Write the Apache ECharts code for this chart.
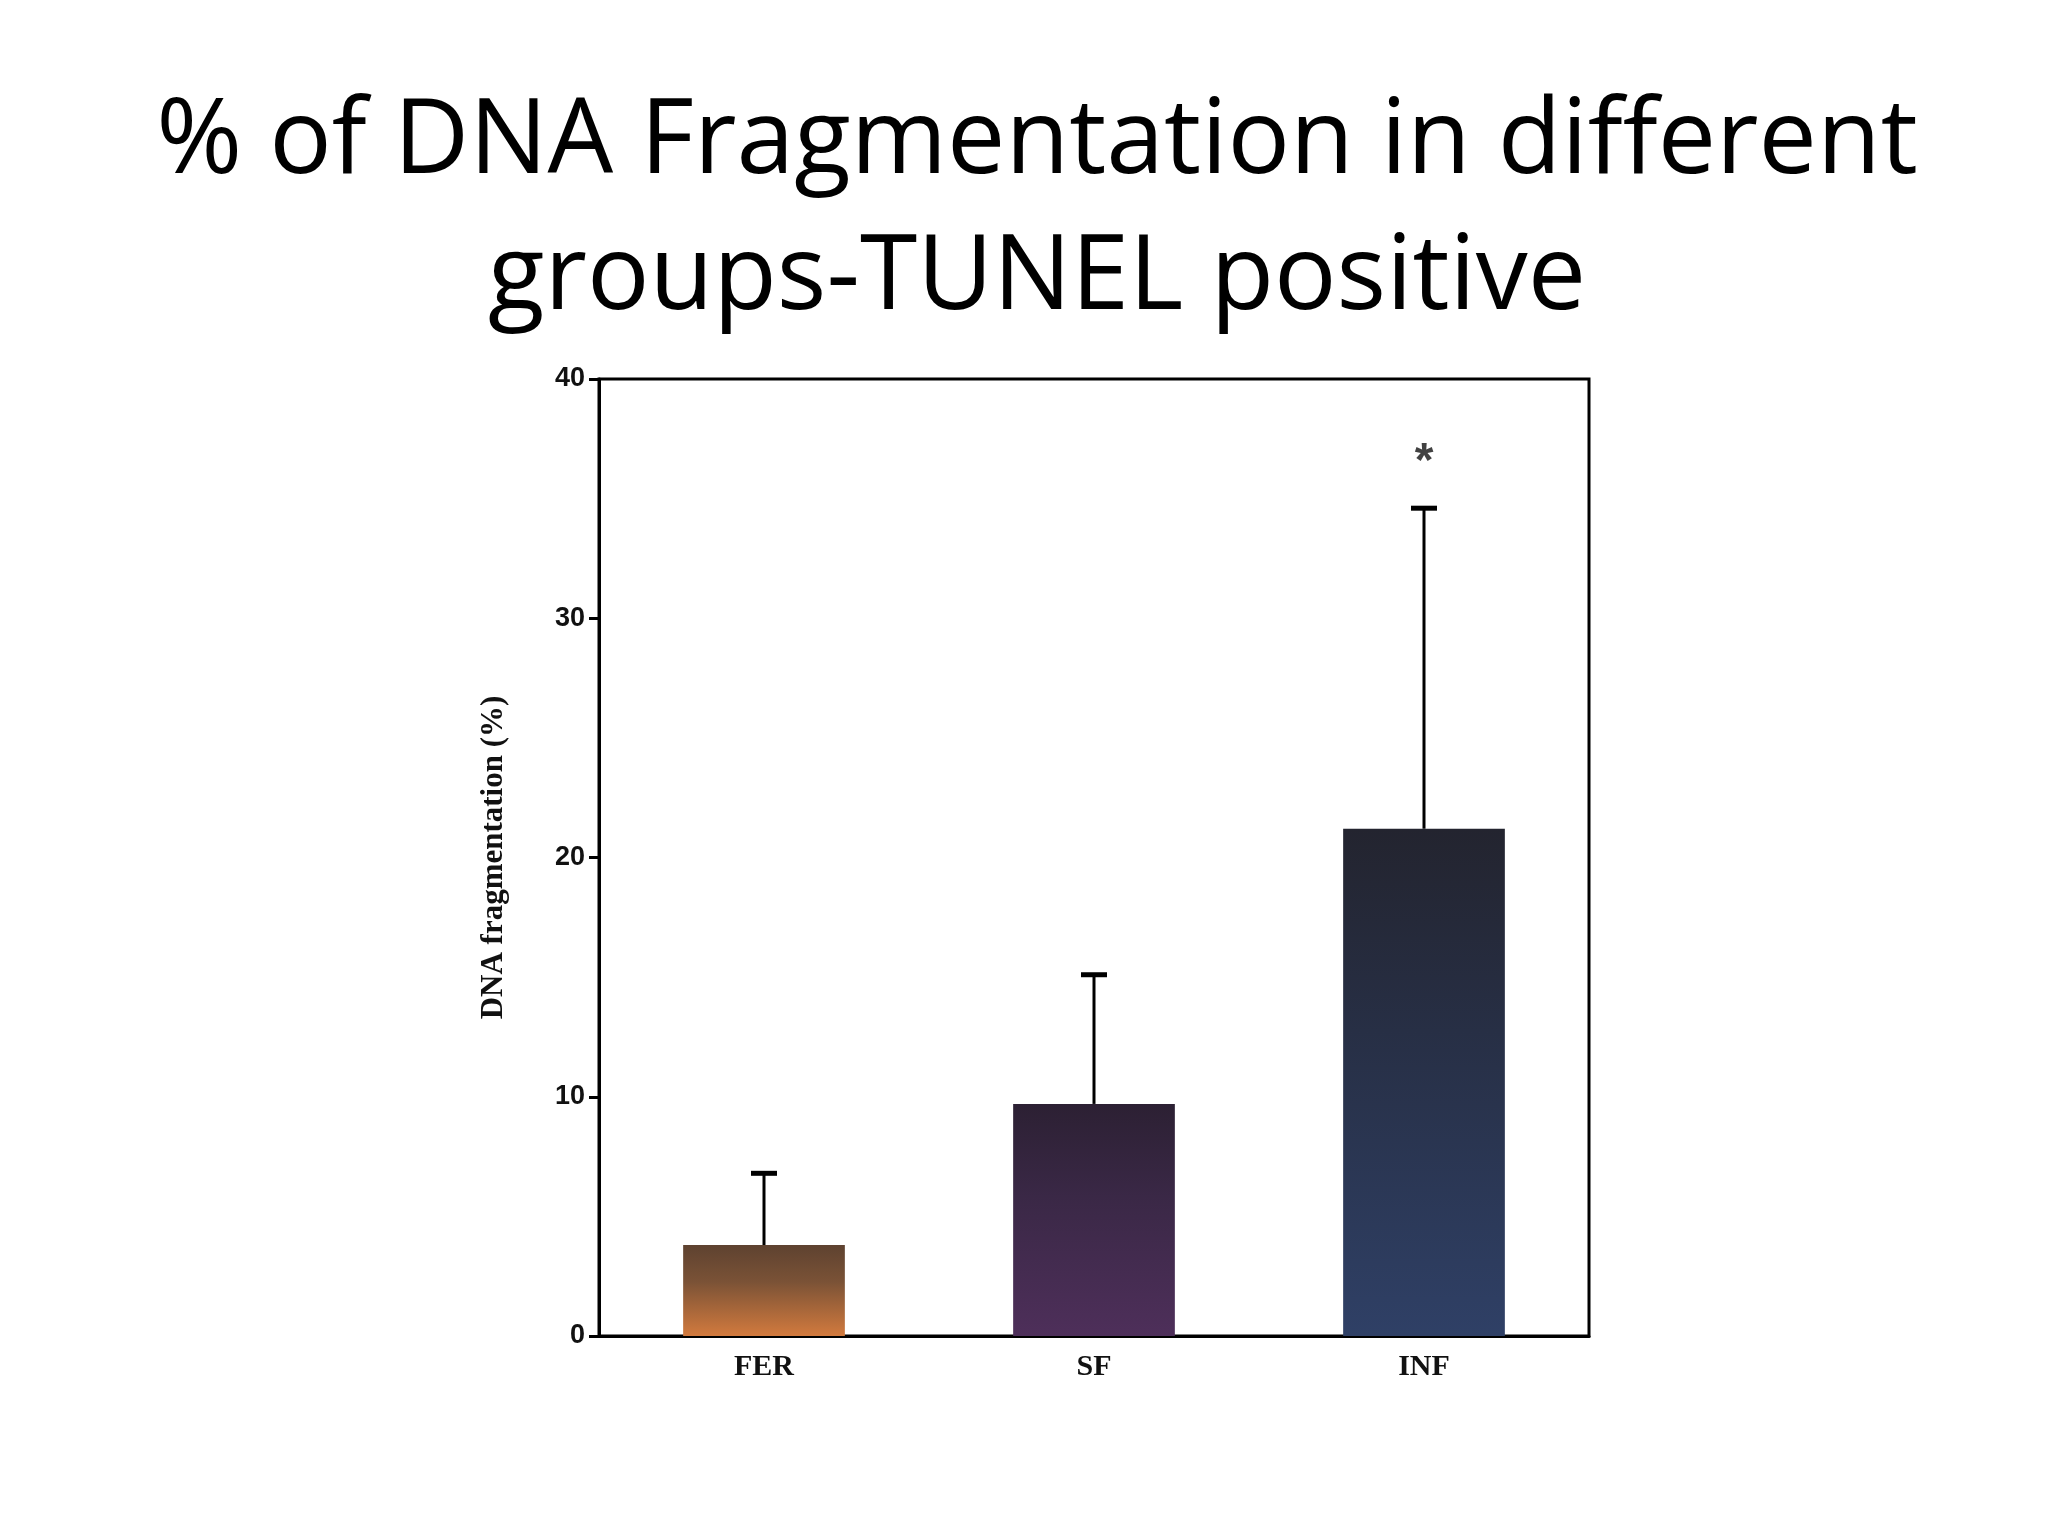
<!DOCTYPE html>
<html>
<head>
<meta charset="utf-8">
<script src="https://cdn.jsdelivr.net/npm/echarts@6/dist/echarts.min.js"></script>
<style>html,body{margin:0;padding:0;background:#fff;}#main{width:2048px;height:1536px;}</style>
</head>
<body>
<div id="main"></div>
<script>
var groups = ['FER', 'SF', 'INF'];
var means = [3.8, 9.7, 21.2];
var errUpper = [6.8, 15.1, 34.6];
var marks = ['', '', '*'];

var gradients = [
  ['#5e4230', '#7a5236', '#d27a3e'],
  ['#2c2033', '#3a2846', '#4e2f5a'],
  ['#23242f', '#272f45', '#2f4066']
];

var chart = echarts.init(document.getElementById('main'));

var option = {
  backgroundColor: '#fff',
  title: {
    text: '% of DNA Fragmentation in different\ngroups-TUNEL positive',
    left: 1032, top: 70, textAlign: 'center',
    textStyle: { fontFamily: 'Open Sans', fontWeight: 'normal', fontSize: 104, color: '#000', lineHeight: 136 }
  },
  grid: { left: 599, right: 2048 - 1589, top: 379, bottom: 1536 - 1336, show: true, borderColor: '#000', borderWidth: 3, backgroundColor: 'transparent' },
  xAxis: {
    type: 'category', data: groups,
    axisLine: { lineStyle: { color: '#000', width: 3 } },
    axisTick: { show: false },
    axisLabel: { fontFamily: 'Liberation Serif', fontWeight: 'bold', fontSize: 30, color: '#111', margin: 16 }
  },
  yAxis: {
    type: 'value', min: 0, max: 40, interval: 10,
    name: 'DNA fragmentation (%)', nameLocation: 'middle', nameGap: 90,
    nameTextStyle: { fontFamily: 'Liberation Serif', fontWeight: 'bold', fontSize: 31, color: '#111' },
    splitLine: { show: false },
    axisLine: { show: true, lineStyle: { color: '#000', width: 3 } },
    axisTick: { show: true, length: 10, lineStyle: { color: '#000', width: 3 } },
    axisLabel: { fontFamily: 'Liberation Sans', fontWeight: 'bold', fontSize: 27, color: '#111', margin: 14 }
  },
  series: [
    {
      type: 'bar', barWidth: '49%',
      data: means.map(function (v, i) {
        var g = gradients[i];
        return { value: v, itemStyle: { color: new echarts.graphic.LinearGradient(0, 0, 0, 1, [
          { offset: 0, color: g[0] }, { offset: 0.4, color: g[1] }, { offset: 1, color: g[2] }]) } };
      })
    },
    {
      type: 'custom', z: 1,
      data: groups.map(function (c, i) { return [i, means[i], errUpper[i]]; }),
      renderItem: function (params, api) {
        var base = api.coord([api.value(0), api.value(1)]);
        var top = api.coord([api.value(0), api.value(2)]);
        var st = { stroke: '#000', lineWidth: 3 };
        return { type: 'group', children: [
          { type: 'line', shape: { x1: base[0], y1: base[1], x2: top[0], y2: top[1] }, style: st },
          { type: 'line', shape: { x1: top[0] - 13, y1: top[1], x2: top[0] + 13, y2: top[1] }, style: { stroke: '#000', lineWidth: 5 } }
        ] };
      }
    },
    {
      type: 'scatter', symbolSize: 0,
      data: groups.map(function (c, i) { return [i, errUpper[i] + 1.9]; }),
      label: { show: true, position: 'inside', formatter: function (p) { return marks[p.dataIndex]; },
        fontFamily: 'Liberation Sans', fontWeight: 'bold', fontSize: 48, color: '#111' }
    }
  ]
};
chart.setOption(option);
</script>
</body>
</html>
